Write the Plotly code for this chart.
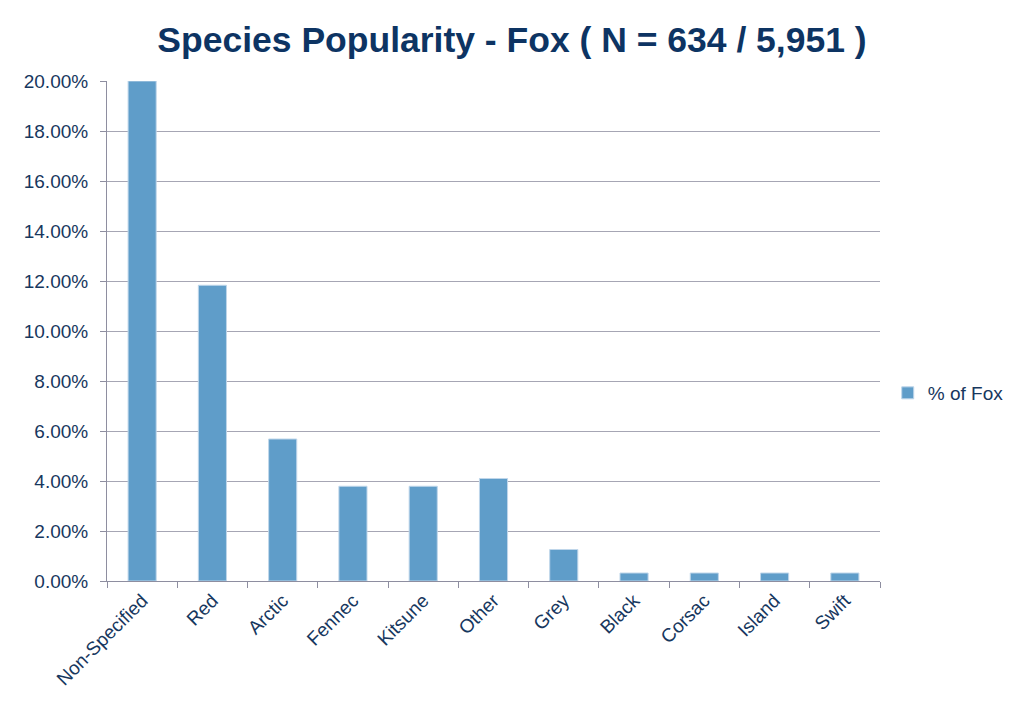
import plotly.graph_objects as go

categories = ["Non-Specified", "Red", "Arctic", "Fennec", "Kitsune", "Other",
              "Grey", "Black", "Corsac", "Island", "Swift"]
pct_of_fox = [0.2000, 0.1183, 0.0568, 0.0379, 0.0379, 0.0410,
              0.0126, 0.0032, 0.0032, 0.0032, 0.0032]
y_ticks = [0.0, 0.02, 0.04, 0.06, 0.08, 0.10, 0.12, 0.14, 0.16, 0.18, 0.20]

text_color = "#17375E"
grid_color = "#A6A6B4"

fig = go.Figure()
fig.add_trace(go.Bar(
    x=categories, y=pct_of_fox, name="% of Fox",
    marker=dict(color="#5F9DC9", line=dict(color="#BFD6EA", width=1)),
))

fig.update_layout(
    width=1024, height=726,
    paper_bgcolor="white", plot_bgcolor="white",
    margin=dict(l=107, r=144, t=81, b=145, autoexpand=False),
    bargap=0.6,
    font=dict(family="Liberation Sans, Arial, sans-serif", color=text_color, size=19),
    title=dict(
        text="<b>Species Popularity - Fox ( N = 634 / 5,951 )</b>",
        x=0.5, xanchor="center", y=0.945, yanchor="middle",
        font=dict(size=35.5, color="#0D3463", family="Liberation Sans, Arial, sans-serif"),
    ),
    showlegend=True,
    legend=dict(x=1.01, y=0.376, xanchor="left", yanchor="middle",
                font=dict(size=19, color=text_color)),
    xaxis=dict(
        tickangle=-45, showline=True, linecolor="#8E8EA0", linewidth=1,
        ticks="outside", ticklen=6, tickcolor="#8E8EA0", tickson="boundaries",
        showgrid=False, tickfont=dict(size=19, color=text_color), automargin=False,
    ),
    yaxis=dict(
        range=[0, 0.2], tickvals=y_ticks, tickformat=".2%",
        showgrid=True, gridcolor=grid_color, gridwidth=1,
        showline=True, linecolor="#8E8EA0", linewidth=1,
        ticks="outside", ticklen=6, tickcolor="#8E8EA0", ticklabelstandoff=8,
        tickfont=dict(size=19, color=text_color), zeroline=False, automargin=False,
    ),
)

fig.write_html("out.html")
